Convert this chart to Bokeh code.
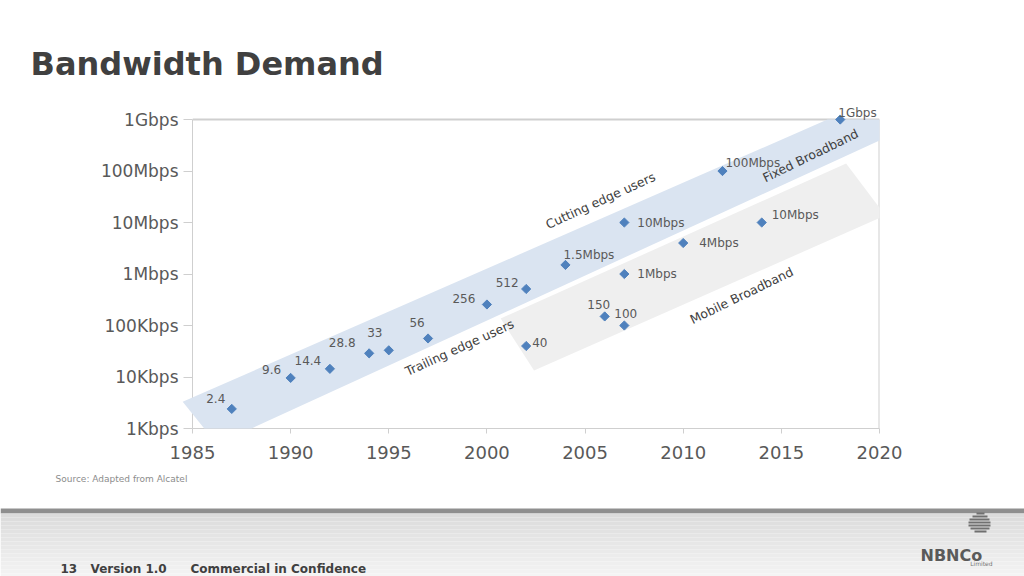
from bokeh.plotting import figure
from bokeh.layouts import column
from bokeh.models import Label, FixedTicker, Range1d
from bokeh.core.properties import value
from bokeh.embed import file_html
from bokeh.resources import INLINE

# ---- data -------------------------------------------------------------
# Fixed broadband access speeds (bits per second) by year
fixed_years = [1987, 1990, 1992, 1994, 1995, 1997, 2000, 2002, 2004, 2007, 2012, 2018]
fixed_bps = [2.4e3, 9.6e3, 14.4e3, 28.8e3, 33e3, 56e3, 256e3, 512e3, 1.5e6, 10e6, 100e6, 1e9]
fixed_labels = ["2.4", "9.6", "14.4", "28.8", "33", "56", "256", "512",
                "1.5Mbps", "10Mbps", "100Mbps", "1Gbps"]

# Mobile broadband access speeds (bits per second) by year
mobile_years = [2002, 2006, 2007, 2007, 2010, 2014]
mobile_bps = [40e3, 150e3, 100e3, 1e6, 4e6, 10e6]
mobile_labels = ["40", "150", "100", "1Mbps", "4Mbps", "10Mbps"]

# Axis ticks
year_ticks = [1985, 1990, 1995, 2000, 2005, 2010, 2015, 2020]
rate_ticks = [1e3, 1e4, 1e5, 1e6, 1e7, 1e8, 1e9]
rate_tick_labels = ["1Kbps", "10Kbps", "100Kbps", "1Mbps", "10Mbps", "100Mbps", "1Gbps"]

# Corridors spanning trailing-edge to cutting-edge users (cut at the plot box)
fixed_band_years = [1984.5, 2017.35, 2020, 2020, 1988.0, 1985.6]
fixed_band_bps = [3.3e3, 1e9, 1e9, 3.9e8, 1e3, 1e3]
mobile_band_years = [2000.7, 2018.3, 2020, 2020, 2002.4]
mobile_band_bps = [1.37e5, 1.40e8, 1.94e7, 1.22e7, 1.34e4]

# ---- label placement (alignment, x offset px, y offset px) ------------
fixed_label_place = [("center", -16, 10), ("center", -19, 8), ("center", -22, 8),
                     ("center", -27, 11), ("center", -14, 18), ("center", -11, 16),
                     ("center", -23, 6), ("center", -19, 6), ("left", -2, 10),
                     ("left", 13, 0), ("left", 3, 8), ("left", -2, 7)]
mobile_label_place = [("left", 6, 4), ("center", -6, 12), ("left", -10, 12),
                      ("left", 13, 0), ("left", 16, 0), ("left", 10, 8)]

FONT = "DejaVu Sans"
TEXT = "#595959"
DARK = "#404040"
BLUE = "#4f81bd"
FRAME = "#cfcfcf"
W = 1024


def sheet(height, top):
    """A plain drawing area whose data units are page pixels (y grows downward)."""
    f = figure(width=W, height=height, x_range=Range1d(0, W),
               y_range=Range1d(top + height, top), output_backend="svg",
               toolbar_location=None, x_axis_location=None, y_axis_location=None,
               min_border=0, min_border_left=0, min_border_right=0,
               min_border_top=0, min_border_bottom=0, frame_align=False,
               border_fill_color="white", background_fill_color="white")
    f.grid.visible = False
    f.outline_line_color = None
    return f


# ---- slide heading ----------------------------------------------------
head = sheet(95, 0)
head.text(x=[30], y=[63], text=["Bandwidth Demand"], text_font=value(FONT),
          text_font_style="bold", text_font_size="32px", text_color=DARK,
          text_baseline="alphabetic")

# ---- chart ------------------------------------------------------------
p = figure(width=W, height=375, x_range=(1985, 2020), y_range=(1e3, 2.93e9),
           y_axis_type="log", output_backend="svg", toolbar_location=None,
           min_border_left=192, min_border_right=145,
           min_border_top=0, min_border_bottom=42, frame_align=False,
           background_fill_color="white", border_fill_color="white")
p.xgrid.visible = False
p.ygrid.visible = False
p.outline_line_color = None

p.xaxis.ticker = FixedTicker(ticks=year_ticks)
p.yaxis.ticker = FixedTicker(ticks=rate_ticks)
p.yaxis.major_label_overrides = dict(zip(rate_ticks, rate_tick_labels))
p.yaxis.bounds = (1e3, 1e9)
for ax, size, tick, standoff in ((p.xaxis, "18px", 5, 12), (p.yaxis, "17px", 9, 5)):
    ax.axis_line_color = FRAME
    ax.major_tick_line_color = FRAME
    ax.major_tick_in = 0
    ax.major_tick_out = tick
    ax.minor_tick_line_color = None
    ax.major_label_standoff = standoff
    ax.major_label_text_font = FONT
    ax.major_label_text_font_size = size
    ax.major_label_text_color = TEXT

# top and right edges of the plot box
p.segment(x0=[1985, 2020], y0=[1e9, 1e3], x1=[2020, 2020], y1=[1e9, 1e9],
          line_color=FRAME, line_width=2)

# corridors, laid over the axis lines
for xs, ys, col in ((fixed_band_years, fixed_band_bps, "#dae4f1"),
                    (mobile_band_years, mobile_band_bps, "#efefef")):
    band = p.patch(xs, ys, fill_color=col, line_color=None)
    band.level = "annotation"

# milestones
for yrs, vals in ((fixed_years, fixed_bps), (mobile_years, mobile_bps)):
    pts = p.scatter(yrs, vals, marker="square", angle=45, angle_units="deg", size=6.5,
                    fill_color=BLUE, line_color=BLUE)
    pts.level = "annotation"

for yrs, vals, texts, place in ((fixed_years, fixed_bps, fixed_labels, fixed_label_place),
                                (mobile_years, mobile_bps, mobile_labels, mobile_label_place)):
    for yr, v, t, (al, dx, dy) in zip(yrs, vals, texts, place):
        p.add_layout(Label(x=yr, y=v, text=t, x_offset=dx, y_offset=dy,
                           text_align=al, text_baseline="middle",
                           text_font=FONT, text_font_size="12px", text_color=TEXT))

# corridor captions (positions in page pixels)
captions = [("Cutting edge users", 600, 200, 24.5),
            ("Trailing edge users", 459, 347, 24.5),
            ("Fixed Broadband", 810, 155, 26.0),
            ("Mobile Broadband", 741, 295, 26.0)]
for txt, cx, cy, deg in captions:
    p.add_layout(Label(x=cx, y=cy - 95, x_units="canvas", y_units="canvas", text=txt,
                       angle=deg, angle_units="deg", text_align="center",
                       text_baseline="middle", text_font=FONT,
                       text_font_size="12.5px", text_color=DARK))

# ---- footer -----------------------------------------------------------
foot = sheet(106, 470)
foot.text(x=[55], y=[478], text=["Source: Adapted from Alcatel"], text_font=value(FONT),
          text_font_size="9px", text_color="#8c8c8c", text_baseline="middle")

foot.quad(left=[0], right=[W], top=[508], bottom=[513], fill_color="#8f8f8f", line_color=None)
steps = 16
tops = [513 + i * 4 for i in range(steps)]
shades = [int(0xdc + (0xf4 - 0xdc) * i / (steps - 1)) for i in range(steps)]
foot.quad(left=[0] * steps, right=[W] * steps, top=tops, bottom=[t + 4 for t in tops],
          fill_color=["#%02x%02x%02x" % (s, s, s) for s in shades], line_color=None)

foot.text(x=[60, 90, 190], y=[568] * 3,
          text=["13", "Version 1.0", "Commercial in Confidence"],
          text_font=value(FONT), text_font_style="bold", text_font_size="12px",
          text_color=DARK, text_baseline="alphabetic")

# company mark
mark_tops = [512, 515, 518, 521, 524, 527, 530]
mark_left = [976, 972, 969, 968, 968, 970, 974]
mark_right = [984, 987, 989, 990, 990, 989, 986]
foot.quad(left=mark_left, right=mark_right, top=mark_tops, bottom=[t + 2 for t in mark_tops],
          fill_color="#707070", line_color=None)
foot.text(x=[920], y=[555], text=["NBNCo"], text_font=value(FONT), text_font_style="bold",
          text_font_size="16px", text_color="#5a5a5a", text_baseline="alphabetic")
foot.text(x=[992], y=[563], text=["Limited"], text_font=value(FONT), text_font_size="6px",
          text_color="#777777", text_align="right", text_baseline="middle")

page = column(head, p, foot, spacing=0)
open("out.html", "w").write(file_html(page, INLINE))
